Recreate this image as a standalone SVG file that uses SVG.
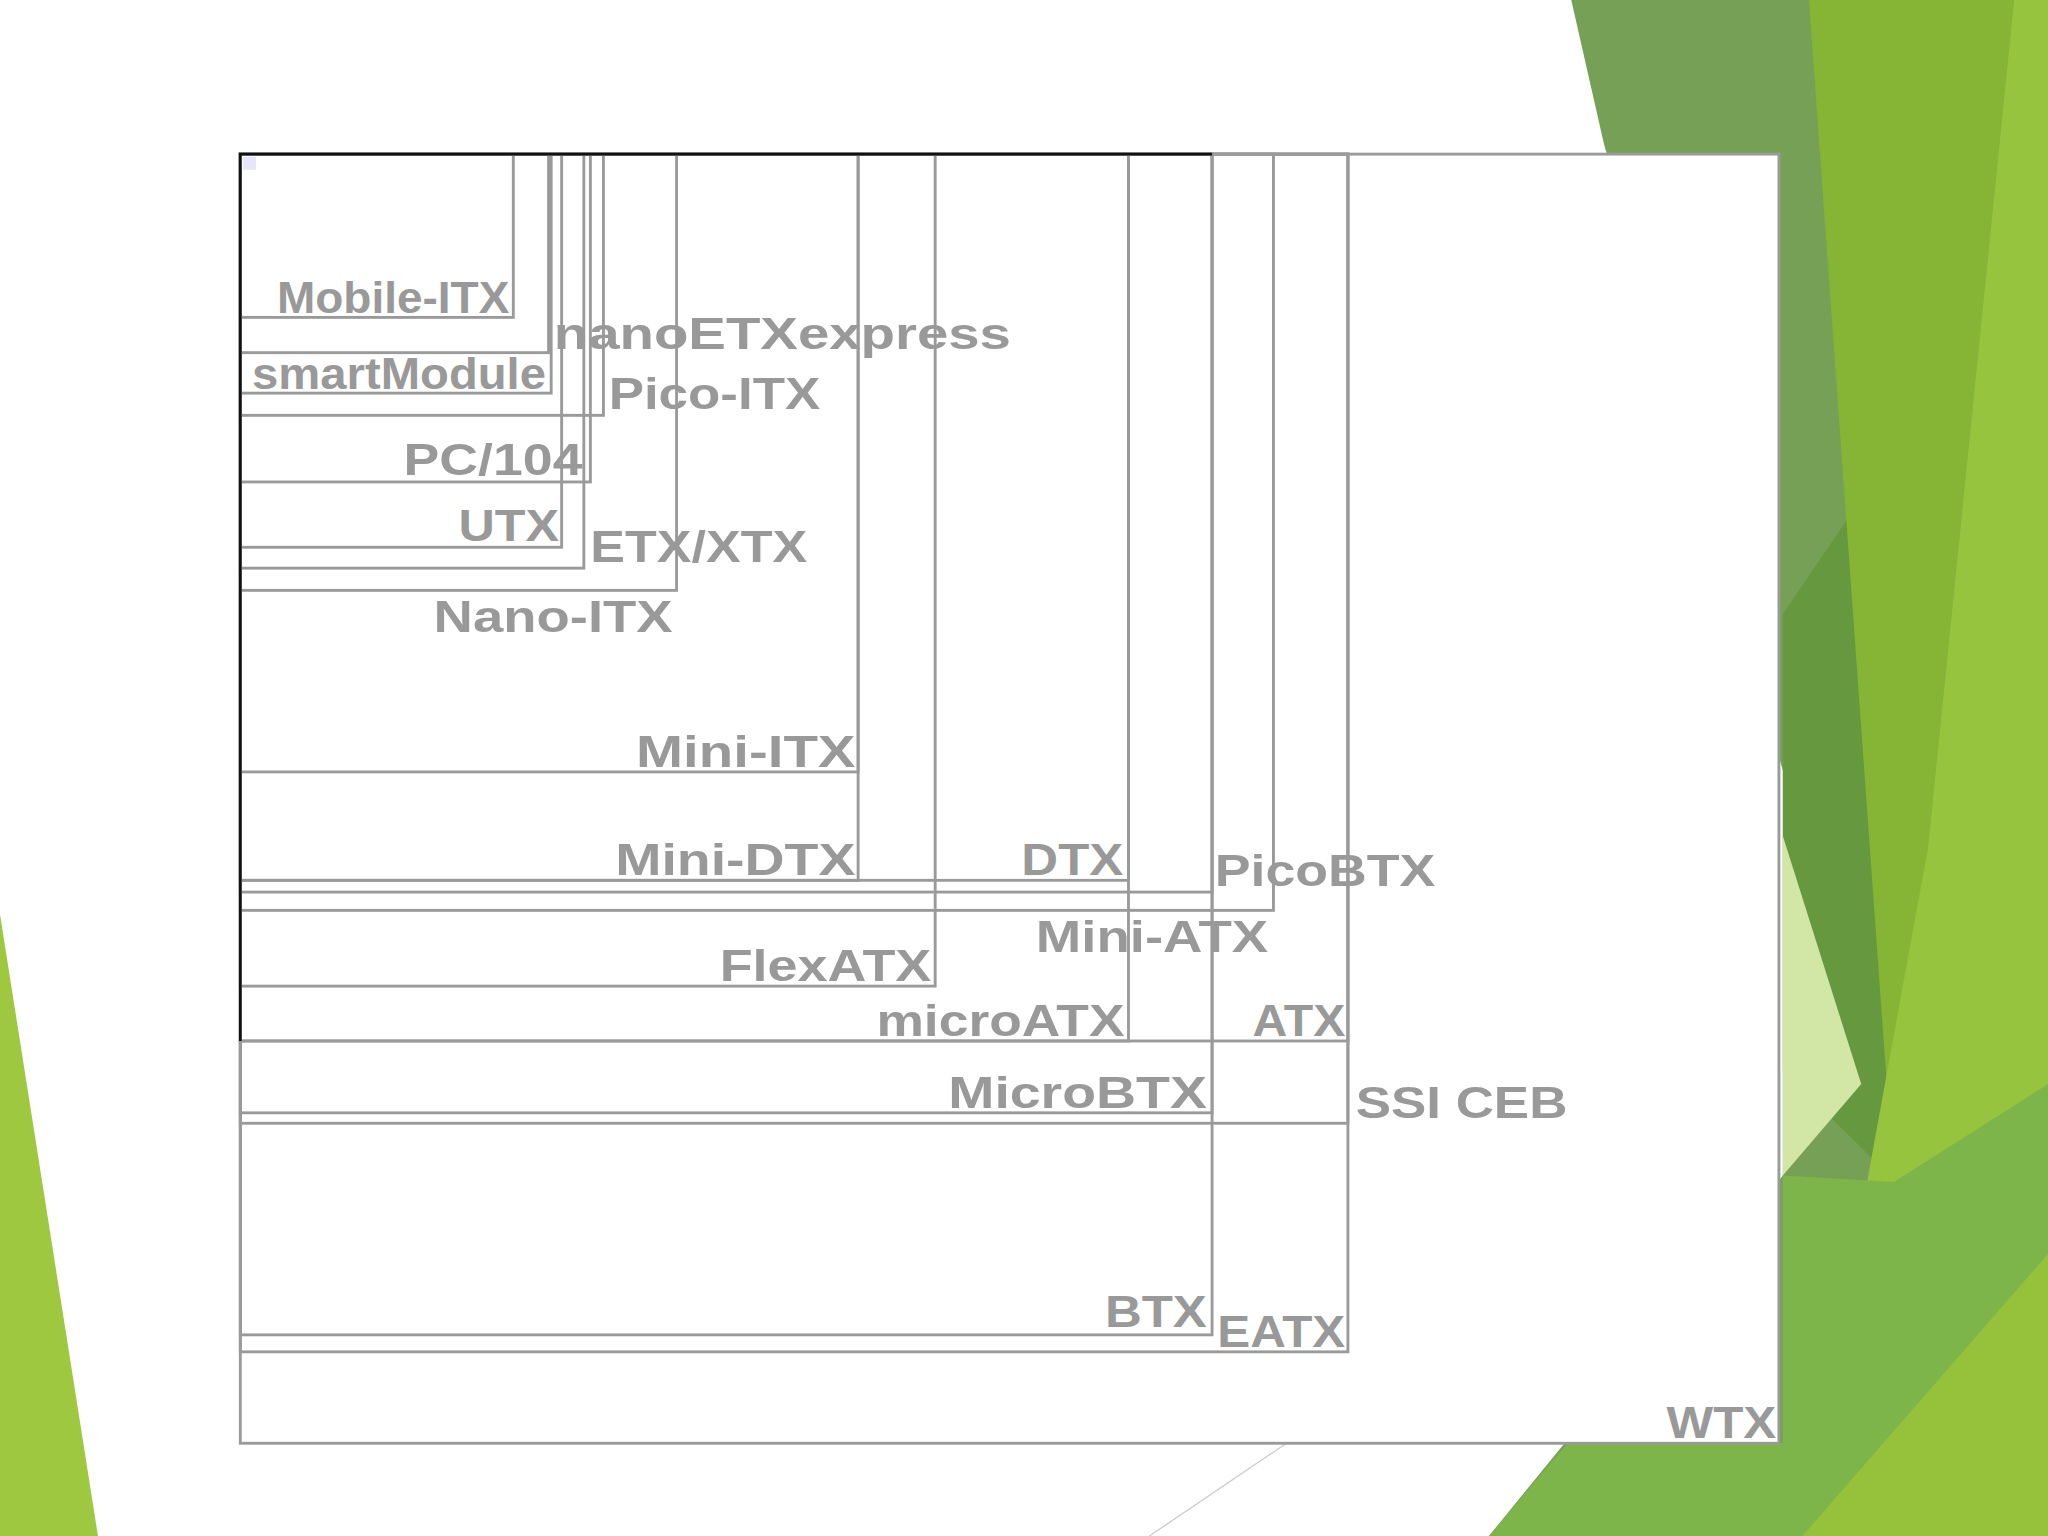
<svg xmlns="http://www.w3.org/2000/svg" width="2048" height="1536" viewBox="0 0 2048 1536">
<style>
.b{fill:none;stroke:#9a9a9a;stroke-width:2.2}
.t{font-family:"Liberation Sans",Arial,sans-serif;font-weight:bold;font-size:34px;fill:#999;text-anchor:start}
</style>
<rect width="2048" height="1536" fill="#fff"/>
<g transform="scale(1.30612)">
<g id="background">
<polygon points="1203,0 1568,0 1568,1176 1140,1176 1365,900 1365,590 1228,110" fill="#76a055"/>
<polygon points="1365,470 1440,360 1452,905 1365,820" fill="#66993f"/>
<polygon points="1385,0 1542,0 1476,650 1450,905" fill="#86b535"/>
<polygon points="1542,0 1568,0 1568,1176 1380,1176 1476,650" fill="#97c43e"/>
<polygon points="1365,640 1425,830 1365,900" fill="#d2e6a6"/>
<polygon points="1140,1176 1200,1105 1365,1105 1365,900 1450,905 1568,830 1568,1176" fill="#7db54a"/>
<polygon points="1380,1176 1568,960 1568,1176" fill="#95c23a"/>
<polygon points="0,700 75,1176 0,1176" fill="#9dc83f"/>
<line x1="880" y1="1176" x2="985" y2="1105" stroke="#ccc" stroke-width="1"/>
</g>
<rect x="184" y="118" width="1178" height="987" fill="#fff"/>
<rect x="186" y="120" width="10" height="10" fill="#e6e6fa"/>
<g id="WTX"><rect class="b" x="184" y="118" width="1178" height="987"/><text class="t" x="1276" y="1101" textLength="84" lengthAdjust="spacingAndGlyphs">WTX</text></g>
<g id="EATX"><rect class="b" x="184" y="118" width="848" height="917"/><text class="t" x="932" y="1031" textLength="98" lengthAdjust="spacingAndGlyphs">EATX</text></g>
<g id="BTX"><rect class="b" x="184" y="118" width="744" height="904"/><text class="t" x="846" y="1016" textLength="78" lengthAdjust="spacingAndGlyphs">BTX</text></g>
<g id="SSI-CEB"><rect class="b" x="184" y="118" width="848" height="742"/><text class="t" x="1038" y="856" textLength="162" lengthAdjust="spacingAndGlyphs">SSI CEB</text></g>
<g id="MicroBTX"><rect class="b" x="184" y="118" width="744" height="734"/><text class="t" x="726" y="848" textLength="198" lengthAdjust="spacingAndGlyphs">MicroBTX</text></g>
<g id="ATX"><rect class="b" x="184" y="118" width="848" height="679"/><text class="t" x="959" y="793" textLength="71" lengthAdjust="spacingAndGlyphs">ATX</text></g>
<g id="microATX"><rect class="b" x="184" y="118" width="680" height="679"/><text class="t" x="671" y="793" textLength="190" lengthAdjust="spacingAndGlyphs">microATX</text></g>
<g id="FlexATX"><rect class="b" x="184" y="118" width="532" height="637"/><text class="t" x="551" y="751" textLength="162" lengthAdjust="spacingAndGlyphs">FlexATX</text></g>
<g id="PicoBTX"><rect class="b" x="184" y="118" width="791" height="579"/><text class="t" x="930" y="678" textLength="169" lengthAdjust="spacingAndGlyphs">PicoBTX</text></g>
<g id="Mini-ATX"><rect class="b" x="184" y="118" width="744" height="565"/><text class="t" x="793" y="729" textLength="178" lengthAdjust="spacingAndGlyphs">Mini-ATX</text></g>
<g id="DTX"><rect class="b" x="184" y="118" width="680" height="556"/><text class="t" x="782" y="670" textLength="78" lengthAdjust="spacingAndGlyphs">DTX</text></g>
<g id="Mini-DTX"><rect class="b" x="184" y="118" width="473" height="556"/><text class="t" x="471" y="670" textLength="184" lengthAdjust="spacingAndGlyphs">Mini-DTX</text></g>
<g id="Mini-ITX"><rect class="b" x="184" y="118" width="473" height="473"/><text class="t" x="487" y="587" textLength="168" lengthAdjust="spacingAndGlyphs">Mini-ITX</text></g>
<g id="Nano-ITX"><rect class="b" x="184" y="118" width="334" height="334"/><text class="t" x="332" y="484" textLength="183" lengthAdjust="spacingAndGlyphs">Nano-ITX</text></g>
<g id="ETX-XTX"><rect class="b" x="184" y="118" width="263" height="317"/><text class="t" x="452" y="430" textLength="166" lengthAdjust="spacingAndGlyphs">ETX/XTX</text></g>
<g id="UTX"><rect class="b" x="184" y="118" width="246" height="301"/><text class="t" x="351" y="414" textLength="77" lengthAdjust="spacingAndGlyphs">UTX</text></g>
<g id="PC104"><rect class="b" x="184" y="118" width="268" height="251"/><text class="t" x="309" y="364" textLength="137" lengthAdjust="spacingAndGlyphs">PC/104</text></g>
<g id="Pico-ITX"><rect class="b" x="184" y="118" width="278" height="200"/><text class="t" x="466" y="313" textLength="162" lengthAdjust="spacingAndGlyphs">Pico-ITX</text></g>
<g id="smartModule"><rect class="b" x="184" y="118" width="238" height="183"/><text class="t" x="193" y="298" textLength="225" lengthAdjust="spacingAndGlyphs">smartModule</text></g>
<g id="nanoETXexpress"><rect class="b" x="184" y="118" width="236" height="152"/><text class="t" x="424" y="267" textLength="350" lengthAdjust="spacingAndGlyphs">nanoETXexpress</text></g>
<g id="Mobile-ITX"><rect class="b" x="184" y="118" width="209" height="125"/><text class="t" x="212" y="240" textLength="178" lengthAdjust="spacingAndGlyphs">Mobile-ITX</text></g>
<g id="connectors"/>
<polyline points="184,797 184,118 928,118" fill="none" stroke="#111" stroke-width="2"/>
</g>
</svg>
